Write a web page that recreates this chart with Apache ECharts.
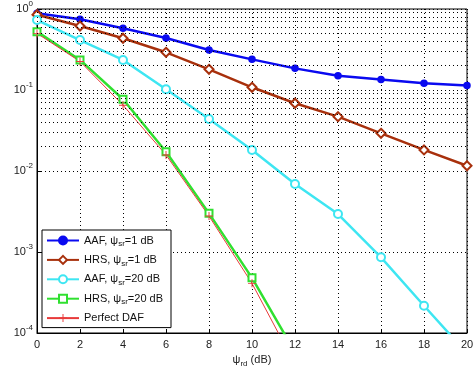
<!DOCTYPE html>
<html><head><meta charset="utf-8">
<script src="https://cdn.jsdelivr.net/npm/echarts@6/dist/echarts.min.js"></script>
<style>html,body{margin:0;padding:0;background:#fff}#c{width:474px;height:366px}</style>
</head><body><div id="c"></div>
<script>
const xVals = [0,2,4,6,8,10,12,14,16,18,20];
const aafSr1  = [0.885,0.746,0.578,0.438,0.312,0.239,0.185,0.150,0.135,0.121,0.114];
const hrsSr1  = [0.85,0.617,0.435,0.292,0.18,0.108,0.0686,0.0469,0.0292,0.0182,0.0116];
const aafSr20 = [0.73,0.414,0.235,0.102,0.0439,0.0182,0.0069,0.00294,0.00086,0.000217,0.000056];
const hrsSr20 = [0.525,0.235,0.0768,0.0173,0.0030,0.00048,0.000058];
const perfDaf = [0.5,0.225,0.065,0.0158,0.00278,0.00041,0.000041];
const seriesNames = ['AAF, ψ{sub|sr}=1 dB','HRS, ψ{sub|sr}=1 dB','AAF, ψ{sub|sr}=20 dB','HRS, ψ{sub|sr}=20 dB','Perfect DAF'];
const minorGridY = [];
for (let e = -4; e < 0; e++) for (let m = 2; m <= 9; m++) minorGridY.push(m * Math.pow(10, e));

const pairs = arr => arr.map((v, i) => [xVals[i], v]);
const FONT = 'Liberation Sans';
const plusPath = 'path://M4.4,0H5.6V4.4H10V5.6H5.6V10H4.4V5.6H0V4.4H4.4Z';

function mk(name, data, color, symbol, size, width, extra) {
  return Object.assign({
    name: name, type: 'line', data: pairs(data), symbol: symbol, symbolSize: size,
    lineStyle: {color: color, width: width}, itemStyle: {color: color, borderColor: color, borderWidth: 1.5},
    clip: true, animation: false, z: 3
  }, extra || {});
}

const chart = echarts.init(document.getElementById('c'), null, {renderer: 'canvas'});
chart.setOption({
  animation: false,
  textStyle: {fontFamily: FONT},
  grid: {left: 37, right: 7, top: 9, bottom: 33, containLabel: false, outerBoundsMode: 'none',
    show: true, borderColor: '#000', borderWidth: 1, backgroundColor: '#fff'},
  xAxis: {
    type: 'value', min: 0, max: 20, interval: 2,
    axisLine: {show: true, lineStyle: {color: '#000'}},
    axisTick: {inside: true, length: 4, lineStyle: {color: '#000'}},
    axisLabel: {color: '#222', fontSize: 11, margin: 6, fontFamily: FONT},
    splitLine: {show: true, lineStyle: {color: '#000', type: [1, 3], width: 1}},
    name: 'ψ{sub|rd} (dB)', nameLocation: 'middle', nameGap: 19,
    nameTextStyle: {color: '#222', fontSize: 11, fontFamily: FONT,
      rich: {sub: {fontSize: 8, padding: [7, 0, 0, 0], fontFamily: FONT, color: '#222'}}}
  },
  yAxis: {
    type: 'log', logBase: 10, min: 1e-4, max: 1,
    axisLine: {show: true, lineStyle: {color: '#000'}},
    axisTick: {inside: true, length: 4, lineStyle: {color: '#000'}},
    axisLabel: {
      color: '#222', fontSize: 11, margin: 4, fontFamily: FONT,
      formatter: v => '10{sup|' + Math.round(Math.log10(v)) + '}',
      rich: {sup: {fontSize: 8, padding: [0, 0, 10, 0], fontFamily: FONT, color: '#222'}}
    },
    splitLine: {show: true, lineStyle: {color: '#000', type: [1, 3], width: 1}},
    name: 'FER', nameLocation: 'middle', nameGap: 28, nameRotate: 90,
    nameTextStyle: {color: '#222', fontSize: 11, fontFamily: FONT}
  },
  legend: {
    orient: 'vertical', left: 42, top: 230, width: 121,
    itemWidth: 32, itemHeight: 10, itemGap: 6.4,
    padding: [5, 8, 4, 4],
    backgroundColor: '#fff', borderColor: '#000', borderWidth: 1,
    data: seriesNames,
    formatter: n => n,
    textStyle: {color: '#111', fontSize: 11, fontFamily: FONT,
      rich: {sub: {fontSize: 8, padding: [7, 0, 0, 0], fontFamily: FONT, color: '#111'}}},
    z: 10
  },
  series: [
    {type: 'line', data: [], silent: true, z: 1,
      markLine: {silent: true, symbol: 'none', label: {show: false}, animation: false,
        lineStyle: {color: '#000', type: [1, 3], width: 1},
        data: minorGridY.map(v => ({yAxis: v}))}},
    mk(seriesNames[0], aafSr1, '#0a0af0', 'circle', 6, 2.5),
    mk(seriesNames[1], hrsSr1, '#a8300c', 'emptyDiamond', 9, 2.5),
    mk(seriesNames[2], aafSr20, '#3ee6f2', 'emptyCircle', 8, 2.5),
    mk(seriesNames[3], hrsSr20, '#30e030', 'emptyRect', 7, 2.5),
    mk(seriesNames[4], perfDaf, '#e83a3a', plusPath, 8, 1, {itemStyle: {color: '#e83a3a', borderWidth: 0}})
  ]
});
</script></body></html>
